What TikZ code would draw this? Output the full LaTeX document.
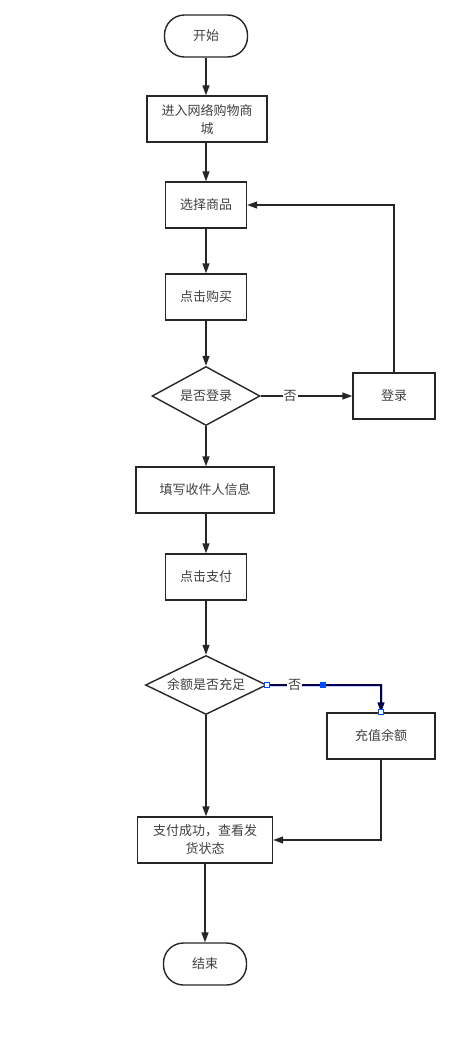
\documentclass[tikz,border=0pt]{standalone}
\usepackage{fontspec}
\setmainfont{Noto Sans CJK SC}
\usetikzlibrary{shapes.geometric,arrows.meta}

\begin{document}
\begin{tikzpicture}[x=1pt,y=-1pt,
    every node/.style={font=\fontsize{13}{18}\selectfont, text=black!75},
    terminal/.style={draw=black!85, line width=1.4pt, rounded corners=20pt,
        minimum width=83pt, minimum height=42pt, inner sep=0pt},
    process/.style={draw=black!85, line width=1.4pt, minimum height=46pt,
        inner sep=0pt, align=center},
    decision/.style={draw=black!85, line width=1.4pt, diamond, aspect=1.8,
        inner sep=0pt},
    flow/.style={draw=black!85, line width=1.4pt,
        -{Triangle[length=10pt,width=7pt]}},
    nolabel/.style={fill=white, inner sep=1pt},
    handle/.style={draw=blue!70!cyan, line width=0.8pt, fill=#1,
        minimum size=5pt, inner sep=0pt},
]
\useasboundingbox (0,0) rectangle (474,1039);

% nodes
\node[terminal] (start) at (206,36) {开始};
\node[process, minimum width=120pt] (enter) at (207,119) {进入网络购物商\\城};
\node[process, minimum width=81pt] (select) at (206,205) {选择商品};
\node[process, minimum width=81pt] (buy) at (206,297) {点击购买};
\node[decision, minimum width=108pt, minimum height=59pt] (islogin) at (206,396) {是否登录};
\node[process, minimum width=82pt] (login) at (394,396) {登录};
\node[process, minimum width=138pt] (fillin) at (205,490) {填写收件人信息};
\node[process, minimum width=81pt] (pay) at (206,577) {点击支付};
\node[decision, minimum width=121pt, minimum height=59pt] (enough) at (206,685) {余额是否充足};
\node[process, minimum width=108pt] (topup) at (381,736) {充值余额};
\node[process, minimum width=135pt] (done) at (205,840) {支付成功，查看发\\货状态};
\node[terminal] (stop) at (205,964) {结束};

% main flow
\draw[flow] (start.south) -- (start.south |- enter.north);
\draw[flow] (enter.south -| start.south) -- (select.north);
\draw[flow] (select.south) -- (buy.north);
\draw[flow] (buy.south) -- (islogin.north);
\draw[flow] (islogin.south) -- (islogin.south |- fillin.north);
\draw[flow] (fillin.south -| pay.north) -- (pay.north);
\draw[flow] (pay.south) -- (enough.north);
\draw[flow] (enough.south) -- (enough.south |- done.north);
\draw[flow] (done.south) -- (done.south |- stop.north);

% branches
\draw[flow] (islogin.east) -- node[nolabel, pos=0.32] {否} (login.west);
\draw[flow] (login.north) |- (select.east);
\draw[blue!40, line width=3pt, opacity=0.5] (enough.east) -| (topup.north);
\draw[flow, draw=blue!30!black] (enough.east) -| node[nolabel, pos=0.12] {否} (topup.north);
\draw[flow] (topup.south) |- (done.east);

% selection handles
\node[handle=white] (h1) at (enough.east) {};
\node[handle=blue!70!cyan] (h2) at (323,685) {};
\node[handle=white] (h3) at (topup.north) {};
\end{tikzpicture}
\end{document}
